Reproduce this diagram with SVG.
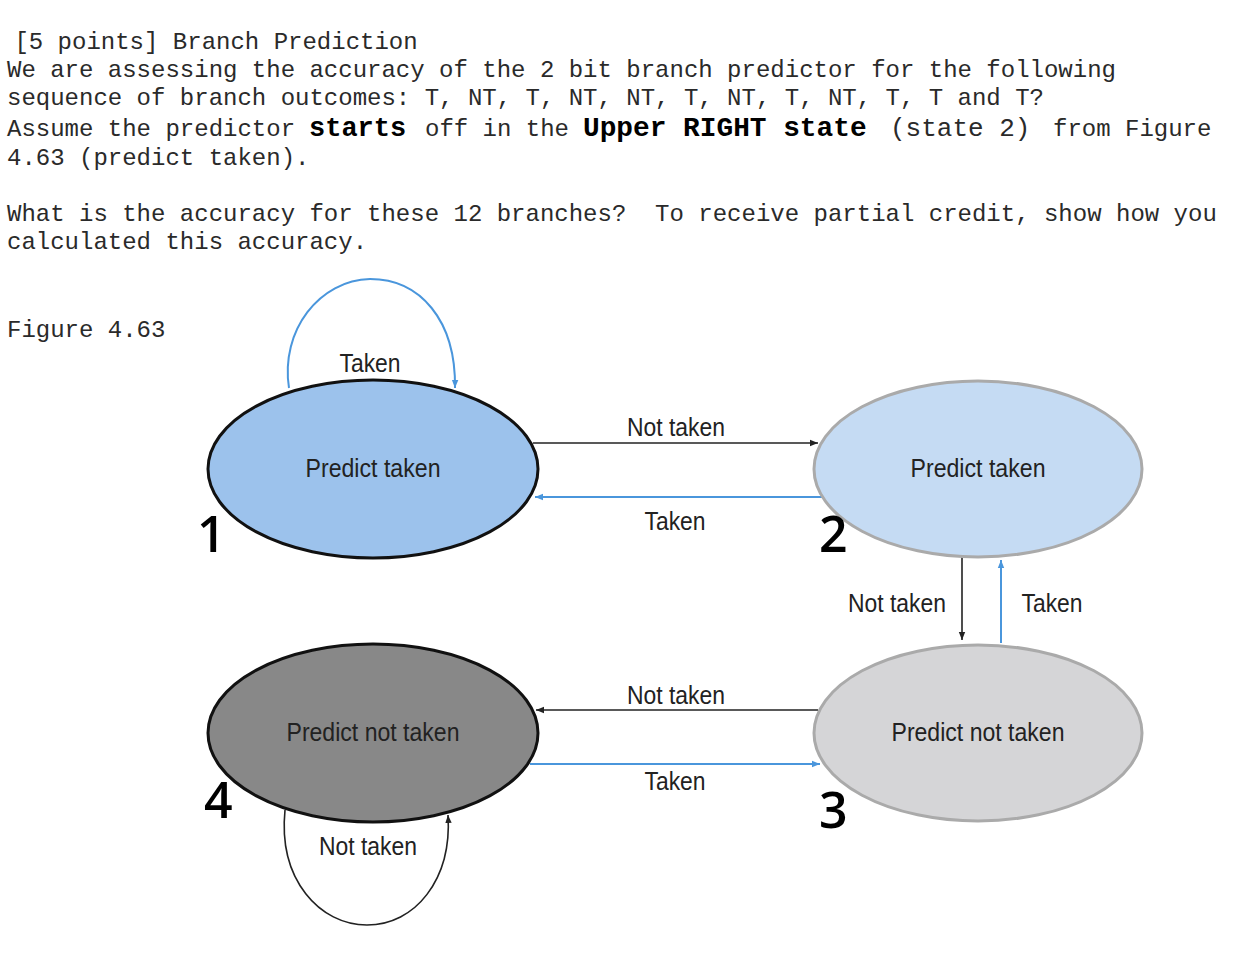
<svg xmlns="http://www.w3.org/2000/svg" width="1248" height="956" viewBox="0 0 1248 956">
<style>
.q{font-family:"Liberation Mono","Courier New",monospace;font-size:24px;fill:#2a2a2a}
.qb{font-family:"Liberation Mono","Courier New",monospace;font-size:27.8px;font-weight:bold;fill:#000}
.lbl{font-family:"Liberation Sans",Arial,sans-serif;font-size:25px;fill:#222;text-anchor:middle}
.nt{font-family:"Liberation Sans",Arial,sans-serif;font-size:25px;fill:#222;text-anchor:middle}
.num{font-family:"Open Sans","Noto Sans",sans-serif;font-size:50px;font-weight:600;fill:#000}
.blk{stroke:#222;stroke-width:1.6;fill:none}
.blu{stroke:#4a96dc;stroke-width:2;fill:none}
</style>
<defs>
<marker id="ab" viewBox="0 0 10 10" refX="10" refY="5" markerWidth="8" markerHeight="8" markerUnits="userSpaceOnUse" orient="auto"><path d="M0,1 L10,5 L0,9 Z" fill="#222"/></marker>
<marker id="au" viewBox="0 0 10 10" refX="10" refY="5" markerWidth="8" markerHeight="8" markerUnits="userSpaceOnUse" orient="auto"><path d="M0,1 L10,5 L0,9 Z" fill="#4a96dc"/></marker>
</defs>
<rect width="1248" height="956" fill="#fff"/>
<g id="question">
<text class="q" x="0" y="49" xml:space="preserve"> [5 points] Branch Prediction</text>
<text class="q" x="7" y="77">We are assessing the accuracy of the 2 bit branch predictor for the following</text>
<text class="q" x="7" y="105">sequence of branch outcomes: T, NT, T, NT, NT, T, NT, T, NT, T, T and T?</text>
<text class="q" x="7" y="136">Assume the predictor</text>
<text class="qb" x="309" y="136" style="font-size:27px">starts</text>
<text class="q" x="425" y="136">off in the</text>
<text class="qb" x="583" y="136">Upper RIGHT state</text>
<text class="q" x="890" y="136" style="font-size:26px">(state 2)</text>
<text class="q" x="1053" y="136">from Figure</text>
<text class="q" x="7" y="165">4.63 (predict taken).</text>
<text class="q" x="7" y="221" xml:space="preserve">What is the accuracy for these 12 branches?  To receive partial credit, show how you</text>
<text class="q" x="7" y="249">calculated this accuracy.</text>
<text class="q" x="7" y="337">Figure 4.63</text>
</g>
<g id="connectors">
<path class="blu" d="M289,388 C280,330 320,280 370,279 C420,279 456,320 455,388" marker-end="url(#au)"/>
<line class="blk" x1="533" y1="443" x2="818" y2="443" marker-end="url(#ab)"/>
<line class="blu" x1="822" y1="497" x2="535" y2="497" marker-end="url(#au)"/>
<line class="blk" x1="962" y1="557" x2="962" y2="640" marker-end="url(#ab)"/>
<line class="blu" x1="1001" y1="643" x2="1001" y2="560" marker-end="url(#au)"/>
<line class="blk" x1="818" y1="710" x2="536" y2="710" marker-end="url(#ab)"/>
<line class="blu" x1="530" y1="764" x2="820" y2="764" marker-end="url(#au)"/>
<path class="blk" d="M285,810 C278,880 320,925 367,925 C415,925 452,880 448,815" marker-end="url(#ab)"/>
<text class="lbl" x="370" y="372" textLength="61" lengthAdjust="spacingAndGlyphs">Taken</text>
<text class="lbl" x="676" y="436" textLength="98" lengthAdjust="spacingAndGlyphs">Not taken</text>
<text class="lbl" x="675" y="530" textLength="61" lengthAdjust="spacingAndGlyphs">Taken</text>
<text class="lbl" x="897" y="612" textLength="98" lengthAdjust="spacingAndGlyphs">Not taken</text>
<text class="lbl" x="1052" y="612" textLength="61" lengthAdjust="spacingAndGlyphs">Taken</text>
<text class="lbl" x="676" y="704" textLength="98" lengthAdjust="spacingAndGlyphs">Not taken</text>
<text class="lbl" x="675" y="790" textLength="61" lengthAdjust="spacingAndGlyphs">Taken</text>
<text class="lbl" x="368" y="855" textLength="98" lengthAdjust="spacingAndGlyphs">Not taken</text>
</g>
<g id="state1">
<ellipse cx="373" cy="469" rx="165" ry="89" fill="#9cc2ec" stroke="#111" stroke-width="3"/>
<text class="nt" x="373" y="477" textLength="135" lengthAdjust="spacingAndGlyphs">Predict taken</text>
<text class="num" x="197" y="552">1</text>
</g>
<g id="state2">
<ellipse cx="978" cy="469" rx="164" ry="88" fill="#c5dbf3" stroke="#aaaaaa" stroke-width="3"/>
<text class="nt" x="978" y="477" textLength="135" lengthAdjust="spacingAndGlyphs">Predict taken</text>
<text class="num" x="819" y="552">2</text>
</g>
<g id="state3">
<ellipse cx="978" cy="733" rx="164" ry="88" fill="#d5d5d7" stroke="#aaaaaa" stroke-width="3"/>
<text class="nt" x="978" y="741" textLength="173" lengthAdjust="spacingAndGlyphs">Predict not taken</text>
<text class="num" x="819" y="828">3</text>
</g>
<g id="state4">
<ellipse cx="373" cy="733" rx="165" ry="89" fill="#888888" stroke="#111" stroke-width="3"/>
<text class="nt" x="373" y="741" textLength="173" lengthAdjust="spacingAndGlyphs">Predict not taken</text>
<text class="num" x="204" y="818">4</text>
</g>
</svg>
